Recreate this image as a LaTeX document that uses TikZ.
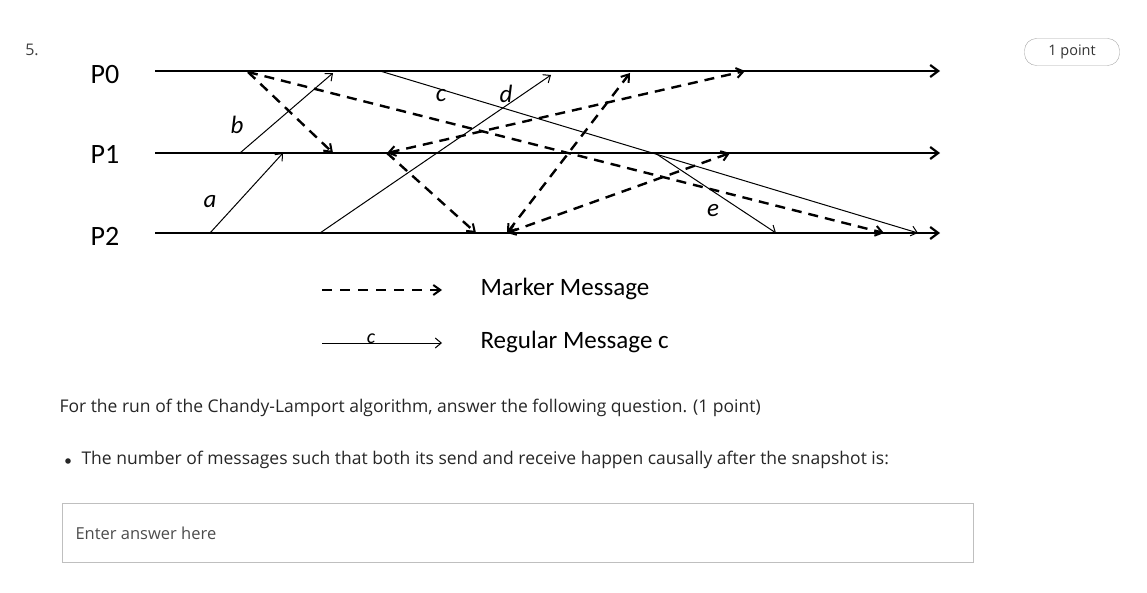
\documentclass[tikz,border=0pt]{standalone}
\usepackage{fontspec}
\setmainfont{Open Sans}
\newfontfamily\carl{Carlito}
\usetikzlibrary{arrows.meta}
\begin{document}
\begin{tikzpicture}[x=1pt,y=-1pt,
  tl/.style={line width=2.8pt,-{Straight Barb[length=8pt,width=12pt,line width=2.2pt]}},
  reg/.style={line width=1pt,-{Straight Barb[length=6pt,width=10pt]}},
  mk/.style={line width=2.4pt,dash pattern=on 10pt off 7pt,-{Straight Barb[length=7pt,width=10pt,line width=2pt]}},
  mkb/.style={mk,{Straight Barb[length=7pt,width=10pt,line width=2pt]}-{Straight Barb[length=7pt,width=10pt,line width=2pt]}},
  lab/.style={font=\carl\fontsize{28}{28}\selectfont},
  it/.style={font=\carl\itshape\fontsize{25}{25}\selectfont},
  txt/.style={font=\fontsize{17.5}{17.5}\selectfont,anchor=west,text=black!85}]
\useasboundingbox (0,0) rectangle (1147,593);
\node[font=\fontsize{16}{16}\selectfont,text=black!75] (n5) at (32,50) {5.};
\node[draw=black!35,rounded corners=12pt,minimum width=95pt,minimum height=27pt,font=\fontsize{14.5}{14.5}\selectfont,text=black!80] (pt) at (1072,52) {1 point};
% timelines
\node[lab] (p0) at (105,75) {P0};
\node[lab] (p1) at (105,154) {P1};
\node[lab] (p2) at (105,236) {P2};
\coordinate (s0) at (155,71); \coordinate (e0) at (940,71);
\coordinate (s1) at (155,153); \coordinate (e1) at (940,153);
\coordinate (s2) at (155,233); \coordinate (e2) at (940,233);
\draw[tl] (s0) -- (e0);
\draw[tl] (s1) -- (e1);
\draw[tl] (s2) -- (e2);
% regular messages
\coordinate (a1) at (210,233); \coordinate (a2) at (283,153);
\coordinate (b1) at (240,153); \coordinate (b2) at (333,73);
\coordinate (c1) at (380,71); \coordinate (c2) at (918,233);
\coordinate (d1) at (320,233); \coordinate (d2) at (551,75);
\coordinate (f1) at (655,153); \coordinate (f2) at (776,233);
\draw[reg] (a1) -- (a2);
\draw[reg] (b1) -- (b2);
\draw[reg] (c1) -- (c2);
\draw[reg] (d1) -- (d2);
\draw[reg] (f1) -- (f2);
\node[it] (la) at (210,202) {a};
\node[it] (lb) at (237,125) {b};
\node[it] (lc) at (441,96) {c};
\node[it] (ld) at (506,94) {d};
\node[it] (le) at (713,211) {e};
% markers
\coordinate (m0) at (248,72);
\coordinate (m1) at (333,153);
\coordinate (m2) at (884,233);
\coordinate (m3) at (387,153);
\coordinate (m4) at (745,71);
\coordinate (m5) at (476,233);
\coordinate (m6) at (507,233);
\coordinate (m7) at (730,153);
\coordinate (m8) at (630,73);
\draw[mk] (m0) -- (m1);
\draw[mk] (m0) -- (m2);
\draw[mkb] (m3) -- (m4);
\draw[mk] (m3) -- (m5);
\draw[mkb] (m6) -- (m7);
\draw[mkb] (m6) -- (m8);
% legend
\coordinate (g1) at (322,290); \coordinate (g2) at (442,290);
\coordinate (h1) at (322,343); \coordinate (h2) at (442,343);
\draw[mk,line width=2pt,dash pattern=on 10pt off 8pt] (g1) -- (g2);
\draw[reg] (h1) -- (h2);
\node[it,font=\carl\itshape\fontsize{20}{20}\selectfont] (lg) at (371,339) {c};
\node[font=\carl\fontsize{25}{25}\selectfont,anchor=west] (mm) at (477,289) {Marker Message};
\node[font=\carl\fontsize{25}{25}\selectfont,anchor=west] (rm) at (477,342) {Regular Message c};
% question
\node[txt] (q) at (56,408) {For the run of the Chandy-Lamport algorithm, answer the following question. (1 point)};
\fill[black!85] (68,461) circle (2.8pt);
\node[txt] (q2) at (78,460) {The number of messages such that both its send and receive happen causally after the snapshot is:};
\node[draw=black!25,minimum width=911pt,minimum height=59pt] (box) at (517.5,532.5) {};
\node[txt,font=\fontsize{16.5}{16.5}\selectfont,text=black!70] (ent) at (72,533) {Enter answer here};
\end{tikzpicture}
\end{document}
